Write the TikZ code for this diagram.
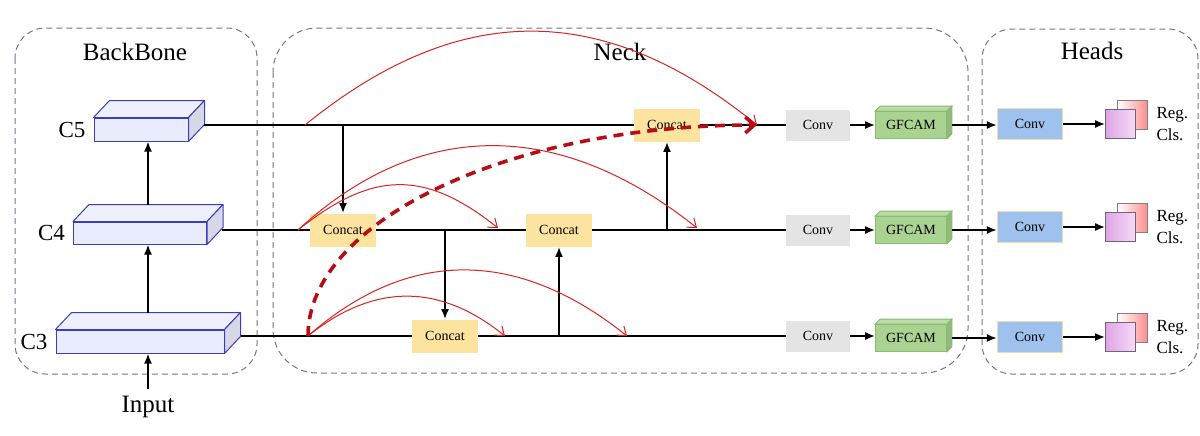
\documentclass[tikz,border=0pt]{standalone}
\usepackage{fontspec}
\setmainfont{Liberation Serif}
\usetikzlibrary{positioning,arrows.meta,calc}

\definecolor{grpc}{RGB}{112,120,138}
\definecolor{bbline}{RGB}{60,60,190}
\definecolor{bbfill}{RGB}{232,236,252}
\definecolor{bbtop}{RGB}{238,240,253}
\definecolor{bbside}{RGB}{214,216,230}
\definecolor{catc}{RGB}{252,228,160}
\definecolor{cnvc}{RGB}{228,228,228}
\definecolor{gffill}{RGB}{170,210,145}
\definecolor{gfline}{RGB}{140,185,115}
\definecolor{gfside}{RGB}{145,185,120}
\definecolor{hcfill}{RGB}{158,193,238}
\definecolor{hcline}{RGB}{235,222,175}
\definecolor{skipc}{RGB}{215,35,35}
\definecolor{fusec}{RGB}{180,15,20}
\definecolor{sqline}{RGB}{110,100,120}
\definecolor{sqa}{RGB}{222,165,230}
\definecolor{sqb}{RGB}{246,218,246}

\begin{document}
\begin{tikzpicture}[
  x=0.5pt, y=-0.5pt,
  >={Latex[length=5pt,width=4pt]},
  grp/.style={draw=grpc, line width=0.5pt, dash pattern=on 3pt off 2pt},
  ttl/.style={font=\fontsize{12.5}{14}\selectfont},
  lvl/.style={font=\fontsize{11.5}{13}\selectfont},
  feat/.style={draw=bbline, fill=bbfill, line width=0.5pt, inner sep=0pt},
  face/.style={draw=bbline, line width=0.5pt, line join=round},
  cat/.style={fill=catc, minimum width=33pt, minimum height=16.5pt, inner sep=0pt,
              font=\fontsize{7}{8}\selectfont},
  cnv/.style={cat, fill=cnvc, minimum width=32pt, minimum height=15.5pt},
  gfc/.style={draw=gfline, fill=gffill, line width=0.4pt, minimum width=35.5pt,
              minimum height=13.5pt, inner sep=0pt, font=\fontsize{7}{8}\selectfont},
  hcv/.style={draw=hcline, fill=hcfill, line width=0.6pt, minimum width=32.5pt,
              minimum height=15.5pt, inner sep=0pt, font=\fontsize{7}{8}\selectfont},
  sqf/.style={draw=sqline, line width=0.5pt, left color=sqa, right color=sqb,
              minimum width=15pt, minimum height=14.5pt, inner sep=0pt},
  sqk/.style={draw=gray, line width=0.5pt, left color=white, right color=red!45,
              minimum width=15pt, minimum height=14.5pt, inner sep=0pt},
  lbl/.style={font=\fontsize{8.5}{11}\selectfont, align=left, inner sep=1pt},
  line/.style={line width=0.9pt, black},
  arr/.style={line, ->},
  skip/.style={skipc, line width=0.5pt, -{Straight Barb[length=4pt,width=6pt]}},
  fuse/.style={fusec, line width=1.8pt, dash pattern=on 5pt off 3.5pt,
               -{Straight Barb[length=4.5pt,width=8pt]}},
]
\useasboundingbox (0,0) rectangle (1200,435);

%% ---------- group frames ----------
\draw[grp, rounded corners=15pt] (15,28) rectangle (257,374);
\draw[grp, rounded corners=22pt] (273,28) rectangle (968,373);
\draw[grp, rounded corners=15pt] (982,29) rectangle (1198,374);
\node[ttl] (tbb)   at (135,52)  {BackBone};
\node[ttl] (tneck) at (620,52)  {Neck};
\node[ttl] (thead) at (1092,51) {Heads};

%% ---------- backbone ----------
\node[feat, minimum width=47pt,   minimum height=11.5pt] (c5) at (141,129.5) {};
\node[feat, minimum width=66.5pt, minimum height=11pt]   (c4) at (140,233) {};
\node[feat, minimum width=84pt,   minimum height=11.5pt] (c3) at (140,341.5) {};
\foreach \b in {c3,c4,c5}{
  \draw[face, fill=bbtop] (\b.north west) -- ++(16,-17) -- ($(\b.north east)+(16,-17)$)
    -- (\b.north east) -- cycle;
  \draw[face, fill=bbside] (\b.north east) -- ++(16,-17) -- ($(\b.south east)+(16,-17)$)
    -- (\b.south east) -- cycle;
}
\node[lvl, left=0.5pt of c5] (l5) {C5};
\node[lvl, left=0.5pt of c4] (l4) {C4};
\node[lvl, left=0.5pt of c3] (l3) {C3};
\node[ttl] (input) at (148,407) {Input};

\coordinate (t3) at ($(c3.north)+(8,-17)$);
\coordinate (t4) at ($(c4.north)+(8,-17)$);
\draw[arr] (input.north) -- (input.north |- c3.south);
\draw[arr] (t3) -- (t3 |- c4.south);
\draw[arr] (t4) -- (t4 |- c5.south);

%% outputs of the three levels
\coordinate (o5) at (204,125);
\coordinate (o4) at (222,230);
\coordinate (o3) at (241,336);

%% ---------- neck ----------
\node[cat] (cat5)  at (667,125) {Concat};
\node[cat] (cat4a) at (343,230) {Concat};
\node[cat] (cat4b) at (559,230) {Concat};
\node[cat] (cat3)  at (445,336) {Concat};
\node[cnv] (cv5) at (818,125) {Conv};
\node[cnv] (cv4) at (818,230) {Conv};
\node[cnv] (cv3) at (818,336) {Conv};
\node[gfc] (gf5) at (911,125) {GFCAM};
\node[gfc] (gf4) at (911,230) {GFCAM};
\node[gfc] (gf3) at (911,338) {GFCAM};
\foreach \b in {gf3,gf4,gf5}{
  \draw[draw=gfline, fill=gffill!80!white, line width=0.4pt] (\b.north west) -- ++(5,-5)
    -- ($(\b.north east)+(5,-5)$) -- (\b.north east) -- cycle;
  \draw[draw=gfline, fill=gfside, line width=0.4pt] (\b.north east) -- ++(5,-5)
    -- ($(\b.south east)+(5,-5)$) -- (\b.south east) -- cycle;
}

\draw[line] (o5) -- (cat5.west);
\draw[line] (cat5.east) -- (cv5.west);
\draw[line] (o4) -- (cat4a.west);
\draw[line] (cat4a.east) -- (cat4b.west);
\draw[line] (cat4b.east) -- (cv4.west);
\draw[line] (o3) -- (cat3.west);
\draw[line] (cat3.east) -- (cv3.west);

\draw[arr] (cat4a.north |- o5) -- (cat4a.north);
\draw[arr] (cat3.north |- o4) -- (cat3.north);
\draw[arr] (cat4b.south |- o3) -- (cat4b.south);
\draw[arr] (cat5.south |- o4) -- (cat5.south);

\foreach \r in {3,4,5}{
  \draw[arr] (cv\r.east) -- (cv\r.east -| gf\r.west);
}

%% skip connections
\coordinate (s5) at (305,125);
\coordinate (s4) at (298,230);
\coordinate (s3) at (308,336);
\coordinate (m5) at (757,125);
\coordinate (m4a) at (498,228);
\coordinate (m4b) at (697,228);
\coordinate (m3a) at (505,336);
\coordinate (m3b) at (627,336);
\draw[skip] (s5) .. controls +(154,-125) and +(-154,-125) .. (m5);
\draw[skip] (s4) .. controls +(74,-59) and +(-74,-59) .. (m4a);
\draw[skip] (s4) .. controls +(120,-111) and +(-139,-111) .. (m4b);
\draw[skip] (s3) .. controls +(66,-53) and +(-66,-53) .. (m3a);
\draw[skip] (s3) .. controls +(100,-88) and +(-110,-88) .. (m3b);
\draw[fuse] (s3) .. controls +(0,-115) and +(-247,0) .. (m5);

%% ---------- heads ----------
\node[hcv] (hc5) at (1030,124) {Conv};
\node[hcv] (hc4) at (1030,227) {Conv};
\node[hcv] (hc3) at (1030,337) {Conv};
\foreach \r in {3,4,5}{
  \draw[arr] ([xshift=2.5pt]gf\r.east) -- (gf\r.east -| hc\r.west);
  \node[sqf, right=21pt of hc\r] (sq\r) {};
  \node[sqk] (sk\r) at ($(sq\r)+(12,-9)$) {};
  \node[sqf] at (sq\r) {};
  \node[lbl, anchor=west] (rc\r) at ($(sq\r.east)+(18,0)$) {Reg.\\Cls.};
  \draw[arr] (hc\r.east) -- (sq\r.west);
}

\end{tikzpicture}
\end{document}
